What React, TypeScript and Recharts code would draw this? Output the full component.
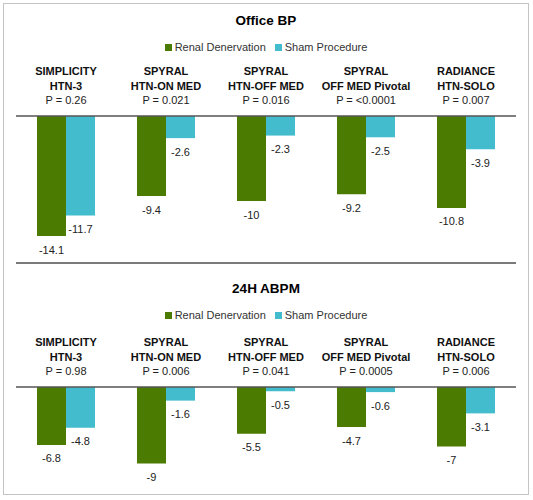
import { BarChart, Bar, XAxis, YAxis, Legend, LabelList, ReferenceLine } from "recharts";

// trial names (two lines each) shared by both panels
const trialNames = ["SIMPLICITY", "SPYRAL", "SPYRAL", "SPYRAL", "RADIANCE"];
const trialSubNames = ["HTN-3", "HTN-ON MED", "HTN-OFF MED", "OFF MED Pivotal", "HTN-SOLO"];

const seriesNames = ["Renal Denervation", "Sham Procedure"];
const seriesColors = ["#4b7b00", "#43bdcd"];

// Office BP
const officePValues = ["P = 0.26", "P = 0.021", "P = 0.016", "P = <0.0001", "P = 0.007"];
const officeRdn = [-14.1, -9.4, -10, -9.2, -10.8];
const officeSham = [-11.7, -2.6, -2.3, -2.5, -3.9];

// 24H ABPM
const abpmPValues = ["P = 0.98", "P = 0.006", "P = 0.041", "P = 0.0005", "P = 0.006"];
const abpmRdn = [-6.8, -9, -5.5, -4.7, -7];
const abpmSham = [-4.8, -1.6, -0.5, -0.6, -3.1];

const FONT = "'Liberation Sans', Arial, sans-serif";

const buildRows = (rdn: number[], sham: number[]) =>
  trialNames.map((t, i) => ({ trial: t + " " + trialSubNames[i], rdn: rdn[i], sham: sham[i] }));

const TrialTick = (props: any) => {
  const { x, y, index, pValues } = props;
  return (
    <g fontFamily={FONT} textAnchor="middle">
      <text x={x} y={y - 41} fontSize={11} fontWeight="bold" fill="#111">
        {trialNames[index]}
      </text>
      <text x={x} y={y - 26.5} fontSize={11} fontWeight="bold" fill="#111">
        {trialSubNames[index]}
      </text>
      <text x={x} y={y - 12} fontSize={11} fill="#222">
        {pValues[index]}
      </text>
    </g>
  );
};

const ValueLabel = (props: any) => {
  const { x, y, width, height, value } = props;
  const bottom = Math.max(Number(y), Number(y) + Number(height));
  return (
    <text x={Number(x) + Number(width) / 2} y={bottom + 17.5} textAnchor="middle" fontSize={11} fontFamily={FONT} fill="#222">
      {value}
    </text>
  );
};

interface PanelProps {
  title: string;
  pValues: string[];
  rdn: number[];
  sham: number[];
  top: number;
  height: number;
  marginTop: number;
  marginBottom: number;
  titleHeight: number;
  axisHeight: number;
  domainMin: number;
  divider: boolean;
}

const Panel = (p: PanelProps) => {
  const rows = buildRows(p.rdn, p.sham);
  return (
    <div style={{ position: "absolute", left: 0, top: p.top }}>
      <BarChart
        width={533}
        height={p.height}
        data={rows}
        margin={{ top: p.marginTop, right: 17, bottom: p.marginBottom, left: 16 }}
        barGap={0}
      >
        <Legend
          verticalAlign="top"
          align="center"
          content={() => (
            <div style={{ height: p.titleHeight + 22, fontFamily: FONT, textAlign: "center" }}>
              <div style={{ height: p.titleHeight, lineHeight: p.titleHeight + "px", fontSize: 13.5, fontWeight: "bold", color: "#000" }}>
                {p.title}
              </div>
              <div style={{ height: 22, lineHeight: "22px", fontSize: 11, color: "#333" }}>
                {seriesNames.map((n, i) => (
                  <span key={n} style={{ marginLeft: i ? 9 : 0 }}>
                    <span style={{ display: "inline-block", width: 7, height: 7, background: seriesColors[i], marginRight: 3 }} />
                    {n}
                  </span>
                ))}
              </div>
            </div>
          )}
        />
        <XAxis
          dataKey="trial"
          orientation="top"
          height={p.axisHeight}
          interval={0}
          tickLine={false}
          tickSize={0}
          tickMargin={0}
          axisLine={{ stroke: "#555", strokeWidth: 1.5 }}
          tick={(t: any) => <TrialTick {...t} pValues={p.pValues} />}
        />
        <YAxis hide domain={[p.domainMin, 0]} allowDataOverflow />
        {p.divider && <ReferenceLine y={p.domainMin} stroke="#7a7a7a" strokeWidth={2} />}
        <Bar dataKey="rdn" name={seriesNames[0]} fill={seriesColors[0]} barSize={29} isAnimationActive={false}>
          <LabelList dataKey="rdn" content={ValueLabel} />
        </Bar>
        <Bar dataKey="sham" name={seriesNames[1]} fill={seriesColors[1]} barSize={29} isAnimationActive={false}>
          <LabelList dataKey="sham" content={ValueLabel} />
        </Bar>
      </BarChart>
    </div>
  );
};

export default function App() {
  return (
    <div style={{ position: "absolute", left: 0, top: 0, width: 533, height: 500, background: "#fff" }}>
      <div
        style={{
          position: "absolute",
          left: 3,
          top: 3,
          width: 526,
          height: 492,
          boxSizing: "border-box",
          border: "1px solid #c4c4c4",
        }}
      />
      <Panel
        title="Office BP"
        pValues={officePValues}
        rdn={officeRdn}
        sham={officeSham}
        top={0}
        height={270}
        marginTop={6}
        marginBottom={7}
        titleHeight={30}
        axisHeight={58}
        domainMin={-17.27}
        divider
      />
      <Panel
        title="24H ABPM"
        pValues={abpmPValues}
        rdn={abpmRdn}
        sham={abpmSham}
        top={263}
        height={237}
        marginTop={10}
        marginBottom={10}
        titleHeight={31}
        axisHeight={61}
        domainMin={-12.1}
        divider={false}
      />
    </div>
  );
}
